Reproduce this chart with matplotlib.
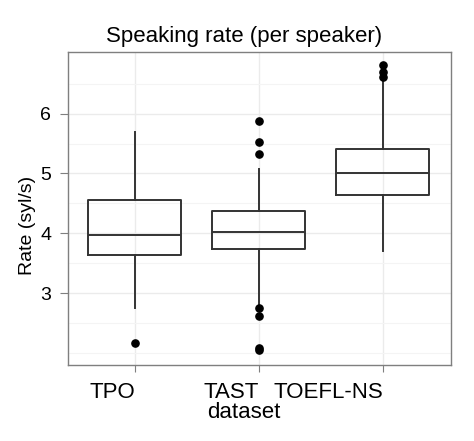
import numpy as np
import matplotlib
matplotlib.use('Agg')
import matplotlib.pyplot as plt

plt.rcParams['font.family'] = ['Liberation Sans', 'DejaVu Sans']

# values
datasets = ['TPO', 'TAST', 'TOEFL-NS']
whislo = [2.75, 2.77, 3.71]
q1 = [3.63, 3.73, 4.64]
med = [3.98, 4.03, 5.00]
q3 = [4.56, 4.37, 5.41]
whishi = [5.70, 5.08, 6.56]
outliers = [
    [2.17],
    [5.88, 5.53, 5.33, 2.75, 2.62, 2.08, 2.05],
    [6.81, 6.69, 6.61],
]

stats = []
for i, name in enumerate(datasets):
    stats.append(dict(label=name, whislo=whislo[i], q1=q1[i], med=med[i],
                      q3=q3[i], whishi=whishi[i], fliers=outliers[i]))

fig = plt.figure(figsize=(4.74, 4.41), dpi=100)
ax = fig.add_axes([68 / 474, 1 - 365 / 441, 383 / 474, 313 / 441])

line = dict(color='#333333', linewidth=1.4)
ax.bxp(stats, positions=[1, 2, 3], widths=0.75, showcaps=False,
       boxprops=line, whiskerprops=line, medianprops=line,
       flierprops=dict(marker='o', markerfacecolor='black', markeredgecolor='black',
                       markersize=5.2, linestyle='none'),
       zorder=3)

ax.set_xlim(0.46, 3.55)
ax.set_ylim(1.8, 7.03)

# grid like ggplot theme_bw
ax.set_yticks([3, 4, 5, 6])
ax.set_yticks([2, 2.5, 3.5, 4.5, 5.5, 6.5], minor=True)
ax.set_xticks([1, 2, 3])
ax.grid(True, which='major', color='#ebebeb', linewidth=1.0, zorder=0)
ax.grid(True, which='minor', axis='y', color='#f4f4f4', linewidth=0.8, zorder=0)
ax.set_axisbelow(True)

ax.set_xticklabels(datasets, ha='right', fontsize=16)
ax.set_yticklabels(['3', '4', '5', '6'], fontsize=14)
ax.tick_params(axis='x', length=5, width=0.8, color='#7f7f7f', pad=7)
ax.tick_params(axis='y', length=6, width=0.8, color='#7f7f7f', pad=6)
ax.tick_params(which='minor', length=0)

for sp in ax.spines.values():
    sp.set_color('#7f7f7f')
    sp.set_linewidth(1.0)

ax.set_ylabel('Rate (syl/s)', fontsize=14)
ax.yaxis.set_label_coords((36 - 68) / 383, (365 - 225) / 313)
ax.set_xlabel('dataset', fontsize=16)
ax.xaxis.set_label_coords((244 - 68) / 383, (365 - 402) / 313)

ax.set_title('Speaking rate (per speaker)', fontsize=16, x=(244 - 68) / 383, pad=7)

fig.savefig('out.png', dpi=100)
